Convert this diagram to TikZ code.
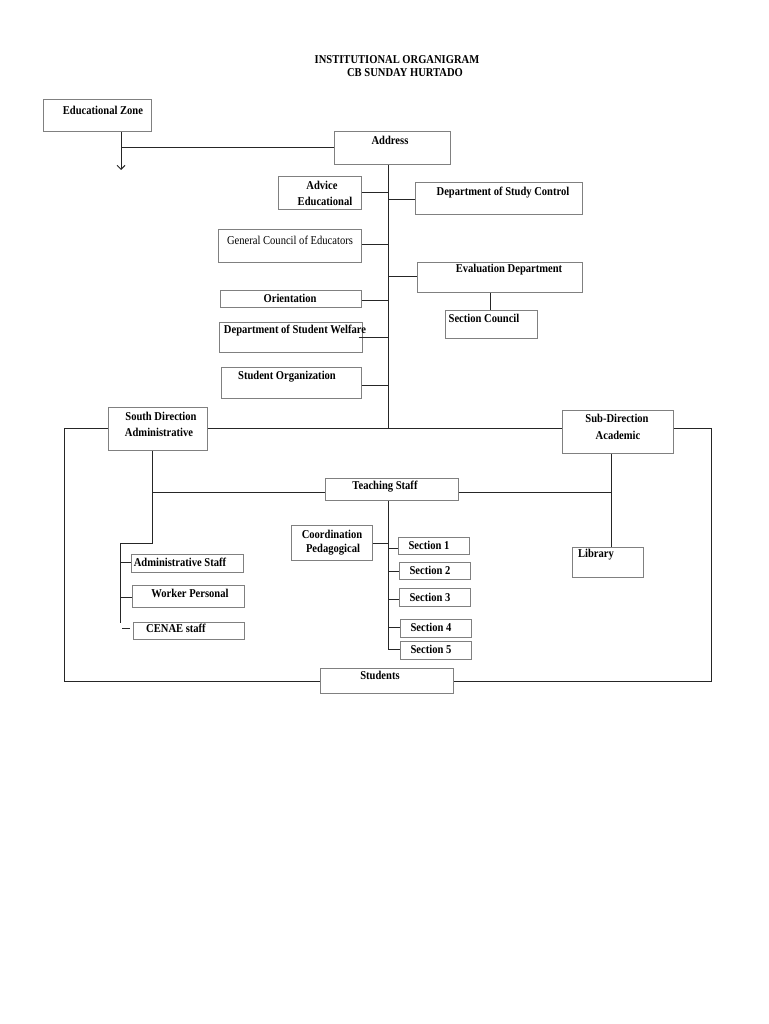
\documentclass[tikz,border=0pt]{standalone}
\usepackage{fontspec}
\setmainfont{Liberation Serif}[FakeStretch=0.88]
\usetikzlibrary{arrows.meta}
\newcommand\ebox[5]{\node[boxst, minimum width={(#4-#2)*1pt}, minimum height={(#5-#3)*1pt}] (#1) at ({(#2+#4)/2},{(#3+#5)/2}) {};}
\newcommand\etxt[4]{\node[txtst] (#1) at (#2,#3) {#4};}
\begin{document}
\begin{tikzpicture}[x=1pt,y=-1pt,
  boxst/.style={draw=black!50, line width=1.0pt, inner sep=0pt, fill=white},
  txtst/.style={inner sep=0pt, font=\fontsize{12}{13}\selectfont\bfseries, anchor=center},
  regtxt/.style={inner sep=0pt, font=\fontsize{12}{13}\selectfont, anchor=center},
  conn/.style={draw=black!85, line width=1.0pt}]
\useasboundingbox (0,0) rectangle (768,1024);
% title
\node[txtst] (title1) at (397,60) {INSTITUTIONAL ORGANIGRAM};
\node[txtst] (title2) at (405,73) {CB SUNDAY HURTADO};
% boxes
\ebox{ez}{43}{100}{151}{132}
\ebox{addr}{334}{132}{450}{165}
\ebox{adv}{278}{177}{361}{210}
\ebox{dsc}{415}{183}{582}{215}
\ebox{gce}{218}{230}{361}{262}
\ebox{evd}{417}{262}{582}{292}
\ebox{sco}{445}{310}{537}{338}
\ebox{ori}{220}{290}{361}{307}
\ebox{dsw}{219}{322}{362}{352}
\ebox{sor}{221}{367}{361}{398}
\ebox{sda}{108}{407}{207}{450}
\ebox{sdac}{562}{410}{673}{453}
\ebox{tst}{325}{478}{458}{500}
\ebox{cop}{291}{525}{372}{560}
\ebox{s1}{398}{537}{469}{554}
\ebox{s2}{399}{562}{470}{579}
\ebox{s3}{399}{588}{470}{606}
\ebox{s4}{400}{619}{471}{637}
\ebox{s5}{400}{641}{471}{659}
\ebox{lib}{572}{547}{643}{577}
\ebox{ads}{131}{554}{243}{572}
\ebox{wp}{132}{585}{244}{607}
\ebox{cen}{133}{622}{244}{639}
\ebox{stu}{320}{668}{453}{693}
% texts
\etxt{tez}{103}{110}{Educational Zone}
\etxt{taddr}{390}{140}{Address}
\etxt{tadv1}{322}{185}{Advice}
\etxt{tadv2}{325}{201}{Educational}
\etxt{tdsc}{503}{193}{Department of Study Control}
\node[regtxt] (tgce) at (290,240) {General Council of Educators};
\etxt{tevd}{509}{270}{Evaluation Department}
\etxt{tsco}{484}{318}{Section Council}
\etxt{tori}{290}{298}{Orientation}
\etxt{tdsw}{295}{331}{Department of Student Welfare}
\etxt{tsor}{287}{377}{Student Organization}
\etxt{tsda1}{161}{416}{South Direction}
\etxt{tsda2}{159}{432}{Administrative}
\etxt{tsdac1}{617}{418}{Sub-Direction}
\etxt{tsdac2}{618}{435}{Academic}
\etxt{ttst}{385}{487}{Teaching Staff}
\etxt{tcop1}{332}{534}{Coordination}
\etxt{tcop2}{333}{550}{Pedagogical}
\etxt{ts1}{429}{545}{Section 1}
\etxt{ts2}{430}{570}{Section 2}
\etxt{ts3}{430}{597}{Section 3}
\etxt{ts4}{431}{627}{Section 4}
\etxt{ts5}{431}{649}{Section 5}
\etxt{tlib}{596}{555}{Library}
\etxt{tads}{180}{562}{Administrative Staff}
\etxt{twp}{190}{593}{Worker Personal}
\etxt{tcen}{176}{628}{CENAE staff}
\etxt{tstu}{380}{675}{Students}
% coordinates
\coordinate (ezarrow) at (121,170);
\coordinate (trunkbot) at (388,428);
\coordinate (lt) at (64,428);
\coordinate (lb) at (64,681);
\coordinate (rt) at (711,428);
\coordinate (rb) at (711,681);
\coordinate (admjoin) at (152,543);
\coordinate (admv) at (120,543);
\coordinate (admvb) at (120,623);
\coordinate (censtub) at (122,628);
\coordinate (tsbot) at (388,649);
% connectors
\draw[conn, -{Straight Barb[length=4pt,width=8pt]}] (ez.south -| ezarrow) -- (ezarrow);
\draw[conn] (121,148) -- (addr.west |- 0,148);
\draw[conn] (addr.south -| trunkbot) -- (trunkbot);
\draw[conn] (adv.east |- 0,193) -- (388,193);
\draw[conn] (388,200) -- (dsc.west |- 0,200);
\draw[conn] (gce.east |- 0,244) -- (388,244);
\draw[conn] (388,276) -- (evd.west |- 0,276);
\draw[conn] (evd.south -| 490,0) -- (sco.north -| 490,0);
\draw[conn] (ori.east |- 0,300) -- (388,300);
\draw[conn] (dsw.east |- 0,337) ++(-4,0) -- (388,337);
\draw[conn] (sor.east |- 0,385) -- (388,385);
% horizontal band
\draw[conn] (lb) -- (lt) -- (sda.west |- lt);
\draw[conn] (sda.east |- lt) -- (sdac.west |- lt);
\draw[conn] (sdac.east |- rt) -- (rt) -- (rb) -- (stu.east |- rb);
\draw[conn] (lb) -- (stu.west |- lb);
% second level
\draw[conn, line width=0.7pt] (sda.south -| admjoin) -- (admjoin) -- (admv) -- (admvb);
\draw[conn] (152,492) -- (tst.west |- 0,492);
\draw[conn] (tst.east |- 0,492) -- (611,492);
\draw[conn, line width=0.7pt] (sdac.south -| 611,0) -- (lib.north -| 611,0);
\draw[conn] (120,562) -- (ads.west |- 0,562);
\draw[conn] (120,597) -- (wp.west |- 0,597);
\draw[conn] (censtub) -- (130,628);
\draw[conn] (tst.south -| tsbot) -- (tsbot);
\draw[conn] (cop.east |- 0,543) -- (388,543);
\draw[conn] (388,548) -- (s1.west |- 0,548);
\draw[conn] (388,571) -- (s2.west |- 0,571);
\draw[conn] (388,599) -- (s3.west |- 0,599);
\draw[conn] (388,627) -- (s4.west |- 0,627);
\draw[conn] (388,649) -- (s5.west |- 0,649);
\end{tikzpicture}
\end{document}
